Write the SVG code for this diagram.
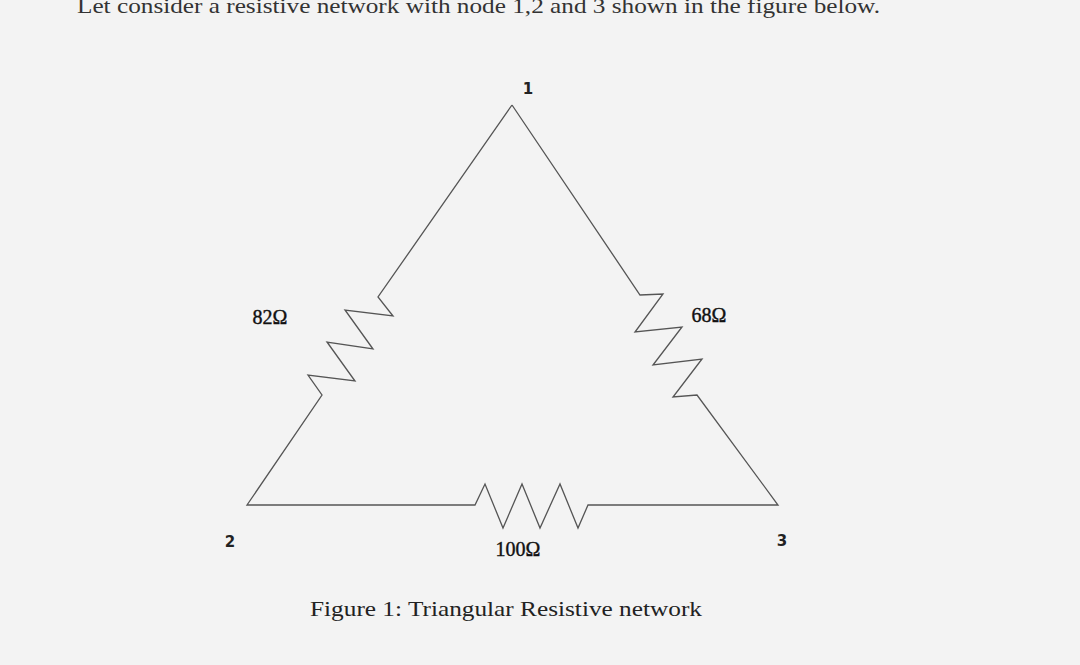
<svg xmlns="http://www.w3.org/2000/svg" width="1080" height="665" viewBox="0 0 1080 665">
<style>
.w{fill:none;stroke:#555;stroke-width:1.3;stroke-linejoin:miter}
.n{font-family:"DejaVu Sans",sans-serif;font-weight:bold;font-size:15px;fill:#222}
.r{font-family:"Liberation Serif",serif;font-size:20px;fill:#111;stroke:#111;stroke-width:0.4}
.c{font-family:"Liberation Serif",serif;font-size:21px;fill:#222}
</style>
<rect width="1080" height="665" fill="#f3f3f3"/>
<text x="77" y="13" class="c" style="fill:#333" textLength="803" lengthAdjust="spacingAndGlyphs">Let consider a resistive network with node 1,2 and 3 shown in the figure below.</text>
<g id="connectors">
<polyline class="w" points="512,105 378,297 393,316 345,310 373,349 327,342 355,381 308,375 322,395 247,505 475,505 485,484 503,528 522,484 540,528 560,484 578,528 588,505 778,505 697,395 673,397 702,359 653,365 682,327 635,332 663,294 640,295 512,105"/>
</g>
<g id="node1"><text x="528" y="94" class="n" text-anchor="middle">1</text></g>
<g id="node2"><text x="230" y="547" class="n" text-anchor="middle">2</text></g>
<g id="node3"><text x="782" y="546" class="n" text-anchor="middle">3</text></g>
<g id="r82"><text x="270" y="324" class="r" text-anchor="middle">82Ω</text></g>
<g id="r68"><text x="709" y="322" class="r" text-anchor="middle">68Ω</text></g>
<g id="r100"><text x="518" y="556" class="r" text-anchor="middle">100Ω</text></g>
<text x="310" y="616" class="c" textLength="392" lengthAdjust="spacingAndGlyphs">Figure 1:  Triangular Resistive network</text>
</svg>
